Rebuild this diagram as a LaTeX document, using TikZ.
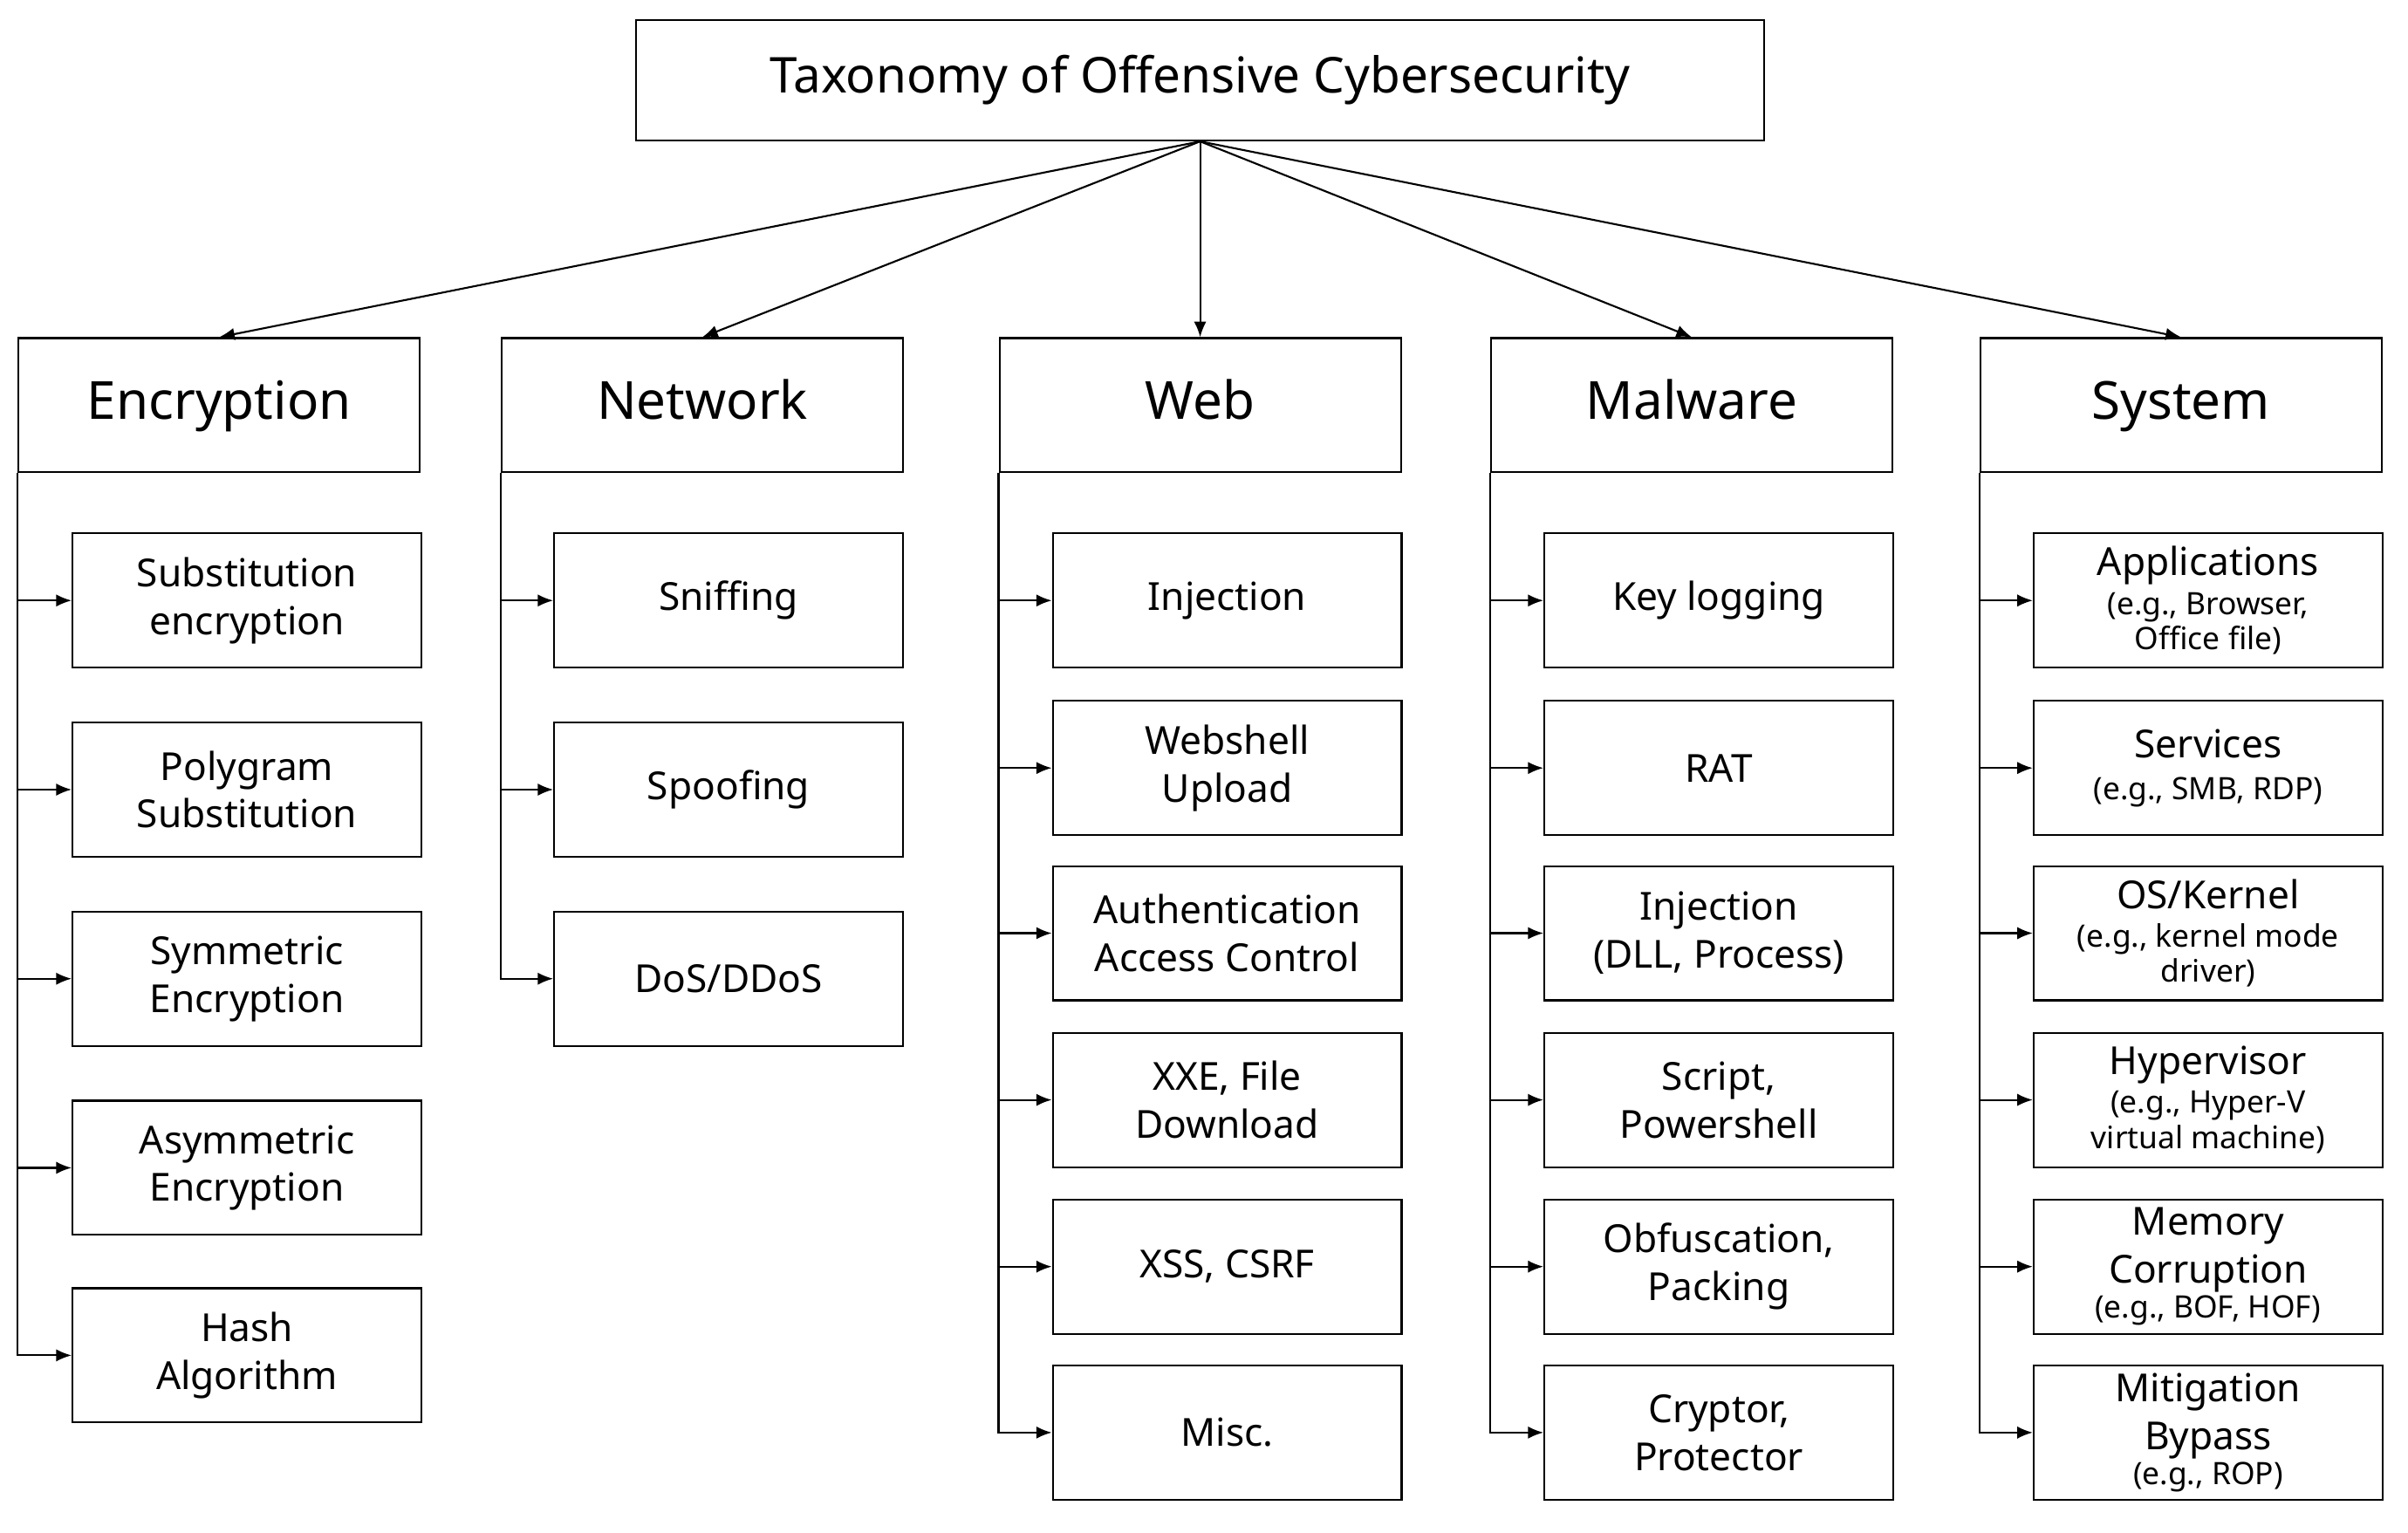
\documentclass[tikz,border=0pt]{standalone}
\usepackage{fontspec}
\setmainfont{Noto Sans}
\usetikzlibrary{arrows.meta}
\begin{document}
\begin{tikzpicture}[x=0.5pt,y=-0.5pt,
  box/.style={draw,line width=0.6pt,inner sep=0pt,align=center},
  cat/.style={box,minimum width=130pt,minimum height=43.5pt,text height=12pt,text depth=3pt,font=\fontsize{17}{20}\selectfont},
  sub/.style={box,minimum width=113pt,minimum height=43.5pt,font=\fontsize{12.5}{15.5}\selectfont},
  arr/.style={line width=0.6pt,-{Latex[length=5pt,width=4pt]}}]
\useasboundingbox (0,0) rectangle (1560,993);
\node[box,minimum width=365.5pt,minimum height=39pt,font=\fontsize{16}{19}\selectfont] (title) at (777.5,52) {Taxonomy of Offensive Cybersecurity};
\node[cat] (enc) at (142,262.5) {Encryption};
\node[cat] (net) at (455,262.5) {Network};
\node[cat] (web) at (777.5,262.5) {Web};
\node[cat] (mal) at (1096,262.5) {Malware};
\node[cat] (sys) at (1413,262.5) {System};
\foreach \c in {enc,net,web,mal,sys} \draw[arr] (title.south) -- (\c.north);
\newcommand{\sm}{\fontsize{10}{11}\selectfont}
% Encryption
\node[sub] (e1) at (160,389) {Substitution\\encryption};
\node[sub] (e2) at (160,511.5) {Polygram\\Substitution};
\node[sub] (e3) at (160,634) {Symmetric\\Encryption};
\node[sub] (e4) at (160,756.5) {Asymmetric\\Encryption};
\node[sub] (e5) at (160,878) {Hash\\Algorithm};
\foreach \n in {e1,e2,e3,e4,e5} \draw[arr] (enc.south west) |- (\n.west);
% Network
\node[sub] (n1) at (472,389) {Sniffing};
\node[sub] (n2) at (472,511.5) {Spoofing};
\node[sub] (n3) at (472,634) {DoS/DDoS};
\foreach \n in {n1,n2,n3} \draw[arr] (net.south west) |- (\n.west);
% Web
\node[sub] (w1) at (795,389) {Injection};
\node[sub] (w2) at (795,497.5) {Webshell\\Upload};
\node[sub] (w3) at (795,604.5) {Authentication\\Access Control};
\node[sub] (w4) at (795,712.5) {XXE, File\\Download};
\node[sub] (w5) at (795,820.5) {XSS, CSRF};
\node[sub] (w6) at (795,928) {Misc.};
\foreach \n in {w1,w2,w3,w4,w5,w6} \draw[arr] (web.south west) |- (\n.west);
% Malware
\node[sub] (m1) at (1113.5,389) {Key logging};
\node[sub] (m2) at (1113.5,497.5) {RAT};
\node[sub] (m3) at (1113.5,604.5) {Injection\\(DLL, Process)};
\node[sub] (m4) at (1113.5,712.5) {Script,\\Powershell};
\node[sub] (m5) at (1113.5,820.5) {Obfuscation,\\Packing};
\node[sub] (m6) at (1113.5,928) {Cryptor,\\Protector};
\foreach \n in {m1,m2,m3,m4,m5,m6} \draw[arr] (mal.south west) |- (\n.west);
% System
\node[sub] (s1) at (1430.5,389) {Applications\\[-3pt]{\sm (e.g., Browser,}\\[-4pt]{\sm Office file)}};
\node[sub] (s2) at (1430.5,497.5) {Services\\[-2pt]{\sm (e.g., SMB, RDP)}};
\node[sub] (s3) at (1430.5,604.5) {OS/Kernel\\[-3pt]{\sm (e.g., kernel mode}\\[-4pt]{\sm driver)}};
\node[sub] (s4) at (1430.5,712.5) {Hypervisor\\[-3pt]{\sm (e.g., Hyper-V}\\[-4pt]{\sm virtual machine)}};
\node[sub] (s5) at (1430.5,820.5) {Memory\\Corruption\\[-4pt]{\sm (e.g., BOF, HOF)}};
\node[sub] (s6) at (1430.5,928) {Mitigation\\Bypass\\[-4pt]{\sm (e.g., ROP)}};
\foreach \n in {s1,s2,s3,s4,s5,s6} \draw[arr] (sys.south west) |- (\n.west);
\end{tikzpicture}
\end{document}
